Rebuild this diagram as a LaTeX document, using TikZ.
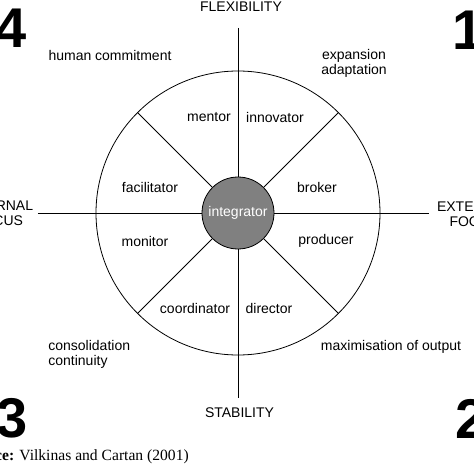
\documentclass[tikz,border=0pt]{standalone}
\usepackage{fontspec}
\setmainfont{Liberation Sans}
\newfontfamily\srcfont{Liberation Serif}
\begin{document}
\begin{tikzpicture}[x=1pt,y=1pt,
    line width=.8pt,
    role/.style={font=\fontsize{14}{15}\selectfont, inner sep=0pt},
    aim/.style={font=\fontsize{14}{15}\selectfont, align=center, inner sep=0pt},
    quad/.style={font=\fontsize{56}{56}\selectfont\bfseries, inner sep=0pt}]
    \clip (-238,-261) rectangle (236,213);
    % axes
    \coordinate (top)   at (0,185);
    \coordinate (bot)   at (0,-185);
    \coordinate (left)  at (-200,0);
    \coordinate (right) at (191,0);
    \draw (left) -- (right);
    \draw (top) -- (bot);
    \draw (0,0) circle(142);
    \node[circle, draw, fill=black!50, minimum size=72pt, inner sep=0pt,
          text=white, font=\fontsize{14}{15}\selectfont] (integ) at (0,0) {integrator};
    \foreach \a in {45,135,225,315} {
        \coordinate (rim\a) at (\a:142);
        \draw (integ.\a) -- (rim\a);
    }
    % axis labels
    \node[aim] (flex)  at (3,206)      {FLEXIBILITY};
    \node[aim] (stab)  at (1.5,-200)   {STABILITY};
    \node[aim] (intf)  at (-239.5,-0.5) {INTERNAL\\FOCUS};
    \node[aim] (extf)  at (236,-1)     {EXTERNAL\\FOCUS};
    % roles
    \node[role] (mentor) at (-29,96)  {mentor};
    \node[role] (innov)  at (37,96)   {innovator};
    \node[role] (facil)  at (-88,26)  {facilitator};
    \node[role] (monit)  at (-93,-28) {monitor};
    \node[role] (broker) at (79,26)   {broker};
    \node[role] (produ)  at (88,-28)  {producer};
    \node[role] (coord)  at (-43,-95) {coordinator};
    \node[role] (direc)  at (31,-95)  {director};
    % quadrant aims
    \node[aim] (human)  at (-128,158) {human commitment};
    \node[aim] (expan)  at (116,150)  {expansion\\adaptation};
    \node[aim, align=left, anchor=west] (consol) at (-190,-141.5) {consolidation\\continuity};
    \node[aim] (maxim)  at (153,-134) {maximisation of output};
    % quadrant numbers
    \node[quad] (q4) at (-227,185) {4};
    \node[quad] (q1) at (230,183)  {1};
    \node[quad] (q3) at (-226,-205) {3};
    \node[quad] (q2) at (233,-206) {2};
    % source
    \node[anchor=west, inner sep=0pt] (src) at (-275,-244)
        {\srcfont\fontsize{15.6}{17}\selectfont\textbf{Source:} Vilkinas and Cartan (2001)};
\end{tikzpicture}
\end{document}
